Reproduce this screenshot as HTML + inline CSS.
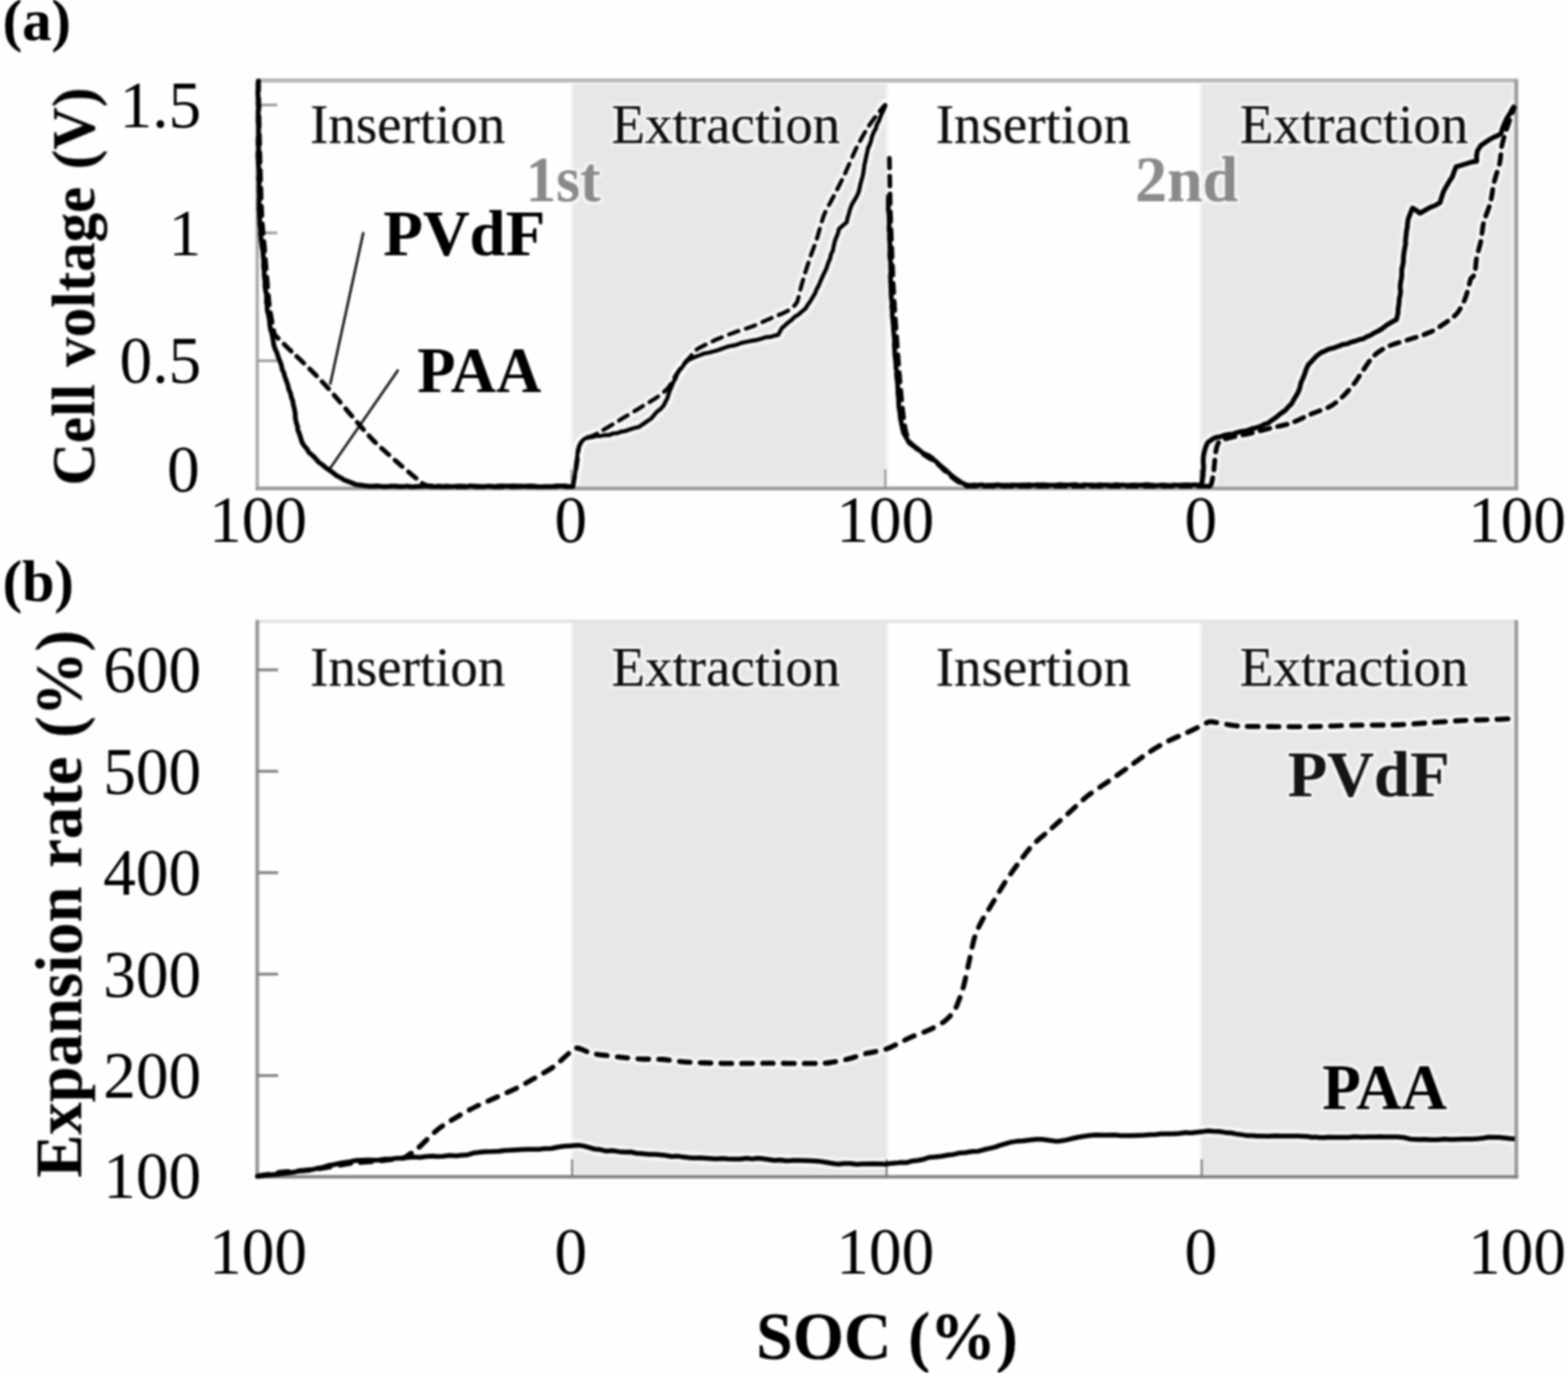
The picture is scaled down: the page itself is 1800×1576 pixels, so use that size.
<!DOCTYPE html>
<html lang="en">
<head>
<meta charset="utf-8">
<title>Cell voltage and expansion rate vs SOC</title>
<style>
html,body{margin:0;padding:0;background:#fefefe;}
body{width:1800px;height:1576px;overflow:hidden;}
svg{display:block;}
text{font-family:"Liberation Serif","DejaVu Serif",serif;fill:#000;}
.crv{fill:none;stroke:#000;stroke-linejoin:round;}
</style>
</head>
<body>
<svg width="1800" height="1576" viewBox="0 0 1800 1576">
<defs>
<filter id="soft" x="-2%" y="-2%" width="104%" height="104%" color-interpolation-filters="sRGB"><feGaussianBlur stdDeviation="1.0"/></filter>
<filter id="soft2" x="-3%" y="-3%" width="106%" height="106%" color-interpolation-filters="sRGB"><feGaussianBlur stdDeviation="1.6"/></filter>
<filter id="halo" x="-2%" y="-2%" width="104%" height="104%" color-interpolation-filters="sRGB"><feMorphology in="SourceAlpha" operator="dilate" radius="2.6" result="d"/><feGaussianBlur in="d" stdDeviation="0.9" result="db"/><feFlood flood-color="#ffffff" flood-opacity="0.6"/><feComposite in2="db" operator="in" result="h"/><feMerge><feMergeNode in="h"/><feMergeNode in="SourceGraphic"/></feMerge></filter>
</defs>
<rect x="0" y="0" width="1800" height="1576" fill="#fefefe"/>
<g filter="url(#soft)">
<g id="panel-a">
<g filter="url(#soft2)">
<rect x="656.8" y="96.2" width="361.4" height="465.3" fill="#e7e7e7"/>
<rect x="1378.2" y="96.2" width="362.4" height="465.3" fill="#e7e7e7"/>
</g>
<path stroke="#fff" stroke-opacity="0.6" fill="none" stroke-linejoin="round" stroke-linecap="round" stroke-width="14" d="M657.8 558.2C658.1 556.3 659.2 549.0 659.8 545.0C660.4 541.0 661.5 534.6 662.2 530.0C662.9 525.4 663.2 515.9 664.4 512.2C665.6 508.5 668.4 505.3 670.6 503.8C672.8 502.3 676.5 502.0 680.0 501.4C683.5 500.8 690.2 500.6 695.6 499.6C701.0 498.6 711.8 496.3 717.8 494.6C723.8 492.9 733.1 490.2 737.8 487.6C742.5 485.0 747.3 480.0 751.1 476.2C754.9 472.4 761.6 465.8 764.4 461.1C767.2 456.4 768.9 448.3 771.1 443.3C773.3 438.3 777.5 429.7 780.0 425.6C782.5 421.5 786.1 416.8 788.9 414.4C791.7 412.0 795.3 410.6 800.0 408.9C805.7 406.9 821.7 402.1 828.9 400.0C836.1 397.9 844.8 395.6 851.1 394.0C857.4 392.4 867.3 390.3 873.3 388.9C879.3 387.5 890.5 385.0 893.3 384.4L897.8 376.7C899.4 375.3 905.1 369.9 908.9 366.7C912.7 363.5 920.6 358.6 924.4 354.4C928.2 350.1 932.4 342.7 935.6 336.7C938.8 330.7 943.9 319.1 946.7 312.2C949.5 305.3 953.7 293.5 955.6 287.8C957.5 282.1 958.9 275.5 960.0 272.0C961.1 268.5 962.8 264.5 963.3 263.3L971.7 255.0C972.6 252.2 976.2 240.4 978.3 235.0C980.4 229.6 984.8 222.6 986.7 216.7C988.6 210.8 990.3 199.9 991.7 193.3C993.1 186.7 994.6 177.1 996.7 170.0C998.8 162.9 1003.9 150.4 1006.7 143.3C1009.5 136.2 1015.3 123.3 1016.7 120.0"/>
<path stroke="#fff" stroke-opacity="0.6" fill="none" stroke-linejoin="round" stroke-linecap="round" stroke-width="14" d="M1380.0 556.8C1380.2 554.6 1380.8 546.5 1381.1 541.1C1381.4 535.7 1381.4 523.6 1382.2 518.9C1383.0 514.2 1385.1 510.1 1386.7 507.8C1388.3 505.5 1390.2 504.0 1393.3 502.9C1397.4 501.5 1409.3 499.3 1415.6 497.8C1421.9 496.3 1432.1 493.9 1437.8 492.2C1443.5 490.5 1450.9 488.1 1455.6 485.6C1460.3 483.1 1467.3 477.6 1471.1 474.4C1474.9 471.2 1479.5 466.8 1482.2 463.3C1484.9 459.8 1488.1 454.1 1490.0 450.0C1491.9 445.9 1493.9 438.8 1495.6 434.4C1497.3 430.0 1500.0 422.5 1502.2 418.9C1504.4 415.3 1508.3 411.3 1511.1 408.9C1513.9 406.5 1517.8 404.1 1522.2 402.2C1526.6 400.3 1536.2 397.5 1542.2 395.6C1548.2 393.7 1558.7 391.1 1564.4 388.9C1570.1 386.7 1578.1 382.4 1582.2 380.0C1586.3 377.6 1590.3 374.1 1593.3 372.2C1596.3 370.3 1601.9 367.5 1603.3 366.7C1603.5 365.6 1604.4 362.0 1604.8 358.9C1605.3 355.4 1606.0 348.8 1606.7 342.0C1607.4 334.4 1608.9 315.0 1610.0 305.0C1611.1 295.0 1613.3 279.3 1614.2 271.7C1615.1 264.1 1615.6 256.3 1616.7 251.7C1617.8 247.1 1621.0 241.0 1621.7 239.2L1630.0 244.2C1631.7 243.4 1638.4 240.0 1641.7 238.3C1645.0 236.6 1651.7 233.3 1653.3 232.5C1653.9 230.7 1655.6 224.1 1657.5 220.0C1659.4 215.9 1664.7 207.3 1666.7 203.3C1668.7 199.3 1671.0 193.3 1671.7 191.7C1673.3 191.1 1680.0 188.4 1683.3 187.5C1686.6 186.6 1693.3 185.4 1695.0 185.0C1695.1 183.3 1695.1 175.9 1695.8 173.3C1696.5 170.7 1698.0 168.6 1700.0 166.7C1702.0 164.8 1706.7 161.9 1710.0 160.0C1713.3 158.1 1721.4 154.2 1723.3 153.3C1723.8 151.7 1725.3 145.0 1726.7 141.7C1728.1 138.4 1731.6 132.9 1733.3 130.0C1735.0 127.1 1738.0 122.3 1738.8 121.0"/>
<path stroke="#fff" stroke-opacity="0.6" fill="none" stroke-linejoin="round" stroke-linecap="round" stroke-width="13.5" stroke-dasharray="11.2 9.3" d="M657.8 558.6C658.2 556.7 659.6 549.1 660.3 545.0C661.0 540.9 662.1 534.6 662.8 530.0C663.5 525.4 663.8 516.0 665.0 512.2C666.2 508.4 669.0 505.0 671.1 503.3C673.2 501.6 677.2 501.8 680.0 500.5C682.8 499.2 686.7 497.0 691.1 494.4C695.8 491.7 707.3 484.7 713.3 481.1C719.3 477.5 727.6 472.4 733.3 468.9C739.0 465.4 748.6 460.0 753.3 456.7C758.0 453.4 763.6 449.1 766.7 445.6C769.8 442.1 772.5 435.8 775.0 432.0C777.5 428.2 781.6 422.1 784.0 419.0C786.4 415.9 789.7 412.5 792.0 410.0C794.3 407.5 796.0 403.7 800.0 401.1C804.6 398.1 818.1 391.7 824.4 388.9C830.7 386.1 838.7 383.2 844.4 381.1C850.1 379.0 858.7 376.6 864.4 374.4C870.1 372.2 878.7 368.1 884.4 365.6C890.1 363.1 900.1 359.2 904.4 356.7C908.6 354.2 912.4 351.0 914.4 347.8C916.4 344.6 917.1 338.8 918.3 334.4C919.5 330.0 921.5 322.4 923.2 316.7C924.9 311.0 928.4 300.4 930.4 294.4C932.4 288.4 935.4 281.2 937.6 274.4C939.8 267.6 943.4 253.5 946.0 246.7C948.6 239.9 952.9 233.3 956.3 226.7C959.7 220.1 965.9 208.0 969.7 200.0C973.5 192.0 979.3 177.6 983.0 170.0C986.7 162.4 992.5 152.4 996.0 146.7C999.5 141.0 1005.2 133.7 1008.0 130.0C1010.8 126.3 1014.9 121.8 1016.0 120.5"/>
<path stroke="#fff" stroke-opacity="0.6" fill="none" stroke-linejoin="round" stroke-linecap="round" stroke-width="13.5" stroke-dasharray="11.2 9.3" d="M1388.0 558.2C1388.4 557.9 1390.1 557.3 1390.5 556.0C1391.3 553.6 1392.6 546.4 1393.3 541.1C1394.0 535.8 1394.7 523.8 1395.6 518.9C1396.5 514.0 1397.5 509.1 1400.0 506.7C1402.5 504.3 1407.9 503.6 1413.3 502.2C1418.7 500.8 1431.2 498.3 1437.8 496.7C1444.4 495.1 1453.7 492.7 1460.0 491.1C1466.3 489.5 1475.9 487.8 1482.2 485.6C1488.5 483.4 1498.1 478.3 1504.4 475.6C1510.7 472.9 1521.3 469.7 1526.7 466.7C1532.1 463.7 1538.1 458.3 1542.2 454.4C1546.3 450.5 1552.5 443.0 1555.6 438.9C1558.7 434.8 1561.3 430.0 1564.4 425.6C1567.5 421.2 1573.4 411.9 1577.8 407.8C1582.2 403.7 1589.6 399.4 1595.6 396.7C1601.6 394.0 1613.4 391.1 1620.0 388.9C1626.6 386.7 1636.5 383.8 1642.2 381.1C1647.9 378.4 1655.6 373.1 1660.0 370.0C1664.4 366.9 1670.2 362.9 1673.3 358.9C1676.4 354.9 1680.1 347.5 1682.2 342.0C1684.3 336.5 1687.4 323.1 1688.3 320.0L1693.3 315.0C1693.5 312.4 1694.1 302.1 1695.0 296.7C1695.9 291.3 1698.8 282.6 1700.0 276.7C1701.2 270.8 1701.8 261.1 1703.3 255.0C1704.8 248.9 1709.1 239.7 1710.8 233.3C1712.5 226.9 1713.5 216.6 1715.0 210.0C1716.5 203.4 1720.4 192.8 1721.7 186.7C1723.0 180.6 1723.0 172.4 1724.2 166.7C1725.4 161.0 1728.0 152.8 1730.0 146.7C1732.0 140.6 1737.1 126.6 1738.3 123.3"/>
<line x1="656.8" y1="557.2" x2="1018.2" y2="557.2" stroke="#fff" stroke-opacity="0.35" stroke-width="3"/>
<line x1="1378.2" y1="557.2" x2="1737.6" y2="557.2" stroke="#fff" stroke-opacity="0.35" stroke-width="3"/>
<line x1="1737.0" y1="96.4" x2="1737.0" y2="558.7" stroke="#fff" stroke-opacity="0.35" stroke-width="3"/>
<line x1="293.5" y1="92.4" x2="1742.8" y2="92.4" stroke="#b9b9b9" stroke-width="4.8"/>
<line x1="295.3" y1="92.4" x2="295.3" y2="562.7" stroke="#a9a9a9" stroke-width="3.8"/>
<line x1="1740.6" y1="91.4" x2="1740.6" y2="562.8000000000001" stroke="#9c9c9c" stroke-width="4.4"/>
<line x1="293.5" y1="560.7" x2="1742.8" y2="560.7" stroke="#9a9a9a" stroke-width="4.2"/>
<line x1="295.3" y1="414.1" x2="318.3" y2="414.1" stroke="#9a9a9a" stroke-width="3"/>
<line x1="295.3" y1="267.3" x2="318.3" y2="267.3" stroke="#9a9a9a" stroke-width="3"/>
<line x1="295.3" y1="120.5" x2="318.3" y2="120.5" stroke="#9a9a9a" stroke-width="3"/>
<line x1="656.3" y1="538.7" x2="656.3" y2="560.7" stroke="#808080" stroke-width="1.8"/>
<line x1="1016.3" y1="538.7" x2="1016.3" y2="560.7" stroke="#808080" stroke-width="1.8"/>
<line x1="1378" y1="538.7" x2="1378" y2="560.7" stroke="#808080" stroke-width="1.8"/>
</g>
<g id="panel-b">
<g filter="url(#soft2)">
<rect x="656.8" y="713.3" width="361.9" height="638.4" fill="#e7e7e7"/>
<rect x="1378.5" y="713.3" width="362.4" height="638.4" fill="#e7e7e7"/>
</g>
<path stroke="#fff" stroke-opacity="0.6" fill="none" stroke-linejoin="round" stroke-linecap="round" stroke-width="14" d="M295.6 1350.0C299.7 1349.5 315.6 1347.8 324.4 1346.7C333.2 1345.6 346.8 1344.1 357.8 1342.2C368.8 1340.3 391.2 1334.9 402.2 1333.3C413.2 1331.7 426.2 1331.7 435.6 1331.1C445.0 1330.5 459.5 1329.5 468.9 1328.9C478.3 1328.3 492.8 1327.6 502.2 1327.1C511.6 1326.6 528.7 1326.3 535.6 1325.6C541.9 1325.0 544.8 1322.9 551.1 1322.2C557.4 1321.5 569.6 1321.2 580.0 1320.7C590.4 1320.2 615.0 1319.6 624.4 1318.9C633.4 1318.3 641.0 1316.6 646.7 1316.0C652.4 1315.4 658.4 1314.0 664.4 1314.6C670.4 1315.2 681.3 1318.9 688.9 1320.0C696.5 1321.1 709.0 1321.4 717.8 1322.2C726.6 1323.0 741.7 1324.8 751.1 1325.6C760.5 1326.4 775.0 1327.2 784.4 1327.8C793.8 1328.4 805.2 1329.7 817.8 1330.0C830.4 1330.3 863.2 1329.8 873.3 1330.0C879.6 1330.1 882.6 1331.3 888.9 1331.6C895.2 1331.9 910.6 1332.0 917.8 1332.2C925.0 1332.4 934.3 1332.8 940.0 1333.3C945.7 1333.8 950.6 1335.3 957.8 1335.6C965.7 1336.0 986.5 1336.0 995.6 1336.0C1004.7 1336.0 1015.0 1336.0 1022.2 1335.6C1029.4 1335.2 1040.4 1334.2 1046.7 1333.3C1053.0 1332.4 1060.7 1330.0 1066.7 1328.9C1072.7 1327.8 1080.1 1326.9 1088.9 1325.6C1097.7 1324.3 1118.8 1322.1 1128.9 1320.0C1139.0 1317.9 1150.6 1312.8 1160.0 1311.1C1169.4 1309.4 1188.4 1308.0 1195.6 1307.8C1201.9 1307.7 1204.9 1310.4 1211.1 1310.0C1218.0 1309.5 1236.5 1305.4 1244.4 1304.4C1252.3 1303.4 1258.8 1302.9 1266.7 1302.7C1274.6 1302.5 1290.6 1303.4 1300.0 1303.3C1309.4 1303.2 1323.9 1302.3 1333.3 1301.8C1342.7 1301.3 1358.4 1300.5 1366.7 1300.0C1375.0 1299.5 1385.1 1298.4 1391.8 1298.5C1398.5 1298.6 1407.2 1299.8 1413.8 1300.5C1420.4 1301.2 1428.4 1303.3 1438.2 1303.7C1449.6 1304.2 1484.8 1303.5 1494.5 1303.7C1499.4 1303.8 1501.8 1305.3 1506.7 1305.4C1522.3 1305.6 1588.6 1304.6 1604.5 1304.9C1610.5 1305.0 1613.2 1307.6 1619.2 1307.8C1631.3 1308.2 1676.6 1308.1 1690.1 1307.8C1699.9 1307.6 1707.6 1305.5 1714.5 1305.4C1721.4 1305.3 1735.5 1307.0 1739.0 1307.3"/>
<path stroke="#fff" stroke-opacity="0.6" fill="none" stroke-linejoin="round" stroke-linecap="round" stroke-width="14" stroke-dasharray="12.2 11.7" d="M295.6 1350.0C299.7 1349.4 315.6 1346.5 324.4 1345.5C333.2 1344.5 346.8 1344.2 357.8 1342.8C368.8 1341.4 391.2 1337.0 402.2 1335.5C413.2 1334.0 426.8 1333.4 435.6 1332.5C444.4 1331.6 460.3 1329.4 464.4 1328.9C466.6 1327.3 474.6 1322.4 480.0 1317.8C485.4 1313.2 495.9 1301.7 502.2 1296.7C508.5 1291.7 518.1 1286.0 524.4 1282.2C530.7 1278.4 540.4 1273.1 546.7 1270.0C553.0 1266.9 562.6 1262.8 568.9 1260.0C575.2 1257.2 584.8 1253.1 591.1 1250.0C597.4 1246.9 607.0 1241.4 613.3 1237.8C619.6 1234.2 629.9 1228.5 635.6 1224.4C641.3 1220.3 649.5 1211.9 653.3 1208.9C656.6 1206.2 659.0 1203.2 662.2 1203.0C665.4 1202.8 672.5 1206.8 675.6 1207.8C678.7 1208.8 680.8 1209.4 684.4 1210.0C689.4 1210.8 703.8 1212.5 711.1 1213.3C718.4 1214.1 728.7 1215.2 735.6 1215.6C742.5 1216.0 753.1 1215.5 760.0 1216.0C766.9 1216.5 777.5 1218.3 784.4 1218.9C791.3 1219.5 801.0 1219.7 808.9 1220.0C816.8 1220.3 829.3 1220.6 840.0 1220.7C850.7 1220.8 871.8 1220.4 884.4 1220.4C897.0 1220.4 919.5 1220.8 928.9 1220.7C937.8 1220.6 944.8 1220.7 951.1 1220.0C957.4 1219.3 967.0 1217.2 973.3 1215.6C979.6 1214.0 989.3 1210.5 995.6 1208.9C1001.9 1207.3 1010.9 1206.5 1017.8 1204.0C1024.7 1201.5 1037.5 1194.2 1044.4 1191.1C1051.3 1188.0 1061.0 1184.9 1066.7 1182.2C1072.4 1179.5 1080.3 1175.3 1084.4 1172.2C1088.5 1169.1 1093.1 1163.9 1095.6 1160.0C1098.1 1156.1 1100.6 1148.7 1102.2 1144.4C1103.8 1140.2 1105.2 1135.9 1106.7 1130.0C1108.3 1123.7 1111.6 1107.7 1113.3 1100.0C1115.0 1092.3 1117.0 1081.6 1118.9 1075.6C1120.8 1069.6 1123.7 1063.5 1126.7 1057.8C1129.7 1052.1 1136.2 1041.9 1140.0 1035.6C1143.8 1029.3 1149.2 1019.6 1153.3 1013.3C1157.4 1007.0 1164.5 997.1 1168.9 991.1C1173.3 985.1 1179.4 976.5 1184.4 971.1C1189.4 965.7 1198.4 958.7 1204.4 953.3C1210.4 947.9 1220.4 939.0 1226.7 933.3C1233.0 927.6 1242.6 918.3 1248.9 913.3C1255.2 908.3 1264.8 902.2 1271.1 897.8C1277.4 893.4 1286.7 886.9 1293.3 882.2C1299.9 877.5 1311.2 868.8 1317.8 864.4C1324.4 860.0 1333.7 854.4 1340.0 851.1C1346.3 847.8 1356.2 843.9 1362.2 841.1C1368.2 838.3 1378.4 833.3 1382.2 831.5C1385.0 830.2 1386.2 828.3 1389.3 828.4C1394.8 828.7 1411.3 832.5 1421.0 833.3C1430.7 834.1 1445.7 833.9 1457.8 834.0C1469.9 834.1 1492.8 834.2 1506.7 834.0C1520.6 833.8 1541.7 832.8 1555.6 832.5C1569.5 832.2 1592.4 832.4 1604.5 832.0C1616.6 831.6 1630.8 830.3 1641.2 829.6C1651.6 828.9 1667.4 827.6 1677.8 827.1C1688.2 826.6 1706.0 826.2 1714.5 825.9C1723.0 825.6 1734.7 824.9 1738.0 824.7"/>
<line x1="656.8" y1="1347.2" x2="1018.2" y2="1347.2" stroke="#fff" stroke-opacity="0.35" stroke-width="3"/>
<line x1="1378.2" y1="1347.2" x2="1737.6" y2="1347.2" stroke="#fff" stroke-opacity="0.35" stroke-width="3"/>
<line x1="1737.0" y1="715.3" x2="1737.0" y2="1348.7" stroke="#fff" stroke-opacity="0.35" stroke-width="3"/>
<line x1="295.3" y1="713.3" x2="1740.6" y2="713.3" stroke="#e0e0e0" stroke-width="3.6"/>
<line x1="295.3" y1="711.8" x2="295.3" y2="1352.7" stroke="#959595" stroke-width="4.2"/>
<line x1="1740.6" y1="711.8" x2="1740.6" y2="1352.8" stroke="#9a9a9a" stroke-width="4.4"/>
<line x1="293.5" y1="1350.7" x2="1742.8" y2="1350.7" stroke="#858585" stroke-width="4"/>
<line x1="295.3" y1="1234.6" x2="319.3" y2="1234.6" stroke="#808080" stroke-width="3.2"/>
<line x1="295.3" y1="1118.2" x2="319.3" y2="1118.2" stroke="#808080" stroke-width="3.2"/>
<line x1="295.3" y1="1001.7" x2="319.3" y2="1001.7" stroke="#808080" stroke-width="3.2"/>
<line x1="295.3" y1="885.3" x2="319.3" y2="885.3" stroke="#808080" stroke-width="3.2"/>
<line x1="295.3" y1="768.9" x2="319.3" y2="768.9" stroke="#808080" stroke-width="3.2"/>
<line x1="656.7" y1="1330.7" x2="656.7" y2="1350.7" stroke="#707070" stroke-width="2"/>
<line x1="1017.8" y1="1330.7" x2="1017.8" y2="1350.7" stroke="#707070" stroke-width="2"/>
<line x1="1379.6" y1="1330.7" x2="1379.6" y2="1350.7" stroke="#707070" stroke-width="2"/>
</g>
<g id="labels" filter="url(#halo)">
<text transform="translate(3.0 45.8) scale(0.99 0.99)" font-size="68" font-weight="bold" style="stroke:#000;stroke-width:0.15px;stroke-linejoin:round">(a)</text>
<text transform="translate(3.0 689.6) scale(0.985 0.99)" font-size="68" font-weight="bold" style="stroke:#000;stroke-width:0.15px;stroke-linejoin:round">(b)</text>
<text transform="translate(108.2 329.0) rotate(-90) scale(0.967 1)" font-size="70" font-weight="bold" text-anchor="middle" style="word-spacing:3.1px;stroke:#000;stroke-width:0.15px;stroke-linejoin:round">Cell voltage (V)</text>
<text transform="translate(93.2 1037.5) rotate(-90) scale(0.9645 1)" font-size="77" font-weight="bold" text-anchor="middle" style="word-spacing:3.1px;stroke:#000;stroke-width:0.15px;stroke-linejoin:round">Expansion rate (%)</text>
<text transform="translate(1018.2 1560.0) scale(0.983 1.02)" font-size="77" font-weight="bold" text-anchor="middle" style="stroke:#000;stroke-width:0.15px;stroke-linejoin:round">SOC (%)</text>
<text transform="translate(229.3 564.2) scale(1 1.025)" font-size="75" text-anchor="end">0</text>
<text transform="translate(231.0 439.3) scale(1 1.025)" font-size="75" text-anchor="end">0.5</text>
<text transform="translate(231.0 292.5) scale(1 1.025)" font-size="75" text-anchor="end">1</text>
<text transform="translate(231.0 145.7) scale(1 1.025)" font-size="75" text-anchor="end">1.5</text>
<text transform="translate(231.0 1375.0) scale(1 1.025)" font-size="75" text-anchor="end">100</text>
<text transform="translate(231.0 1260.0) scale(1 1.025)" font-size="75" text-anchor="end">200</text>
<text transform="translate(231.0 1143.6) scale(1 1.025)" font-size="75" text-anchor="end">300</text>
<text transform="translate(231.0 1027.1) scale(1 1.025)" font-size="75" text-anchor="end">400</text>
<text transform="translate(231.0 910.7) scale(1 1.025)" font-size="75" text-anchor="end">500</text>
<text transform="translate(231.0 794.3) scale(1 1.025)" font-size="75" text-anchor="end">600</text>
<text transform="translate(296.2 621.7) scale(1 1.025)" font-size="75" text-anchor="middle">100</text>
<text transform="translate(296.2 1462.0) scale(1 1.025)" font-size="75" text-anchor="middle">100</text>
<text transform="translate(655.3 621.7) scale(1 1.025)" font-size="75" text-anchor="middle">0</text>
<text transform="translate(655.3 1462.0) scale(1 1.025)" font-size="75" text-anchor="middle">0</text>
<text transform="translate(1016.2 621.7) scale(1 1.025)" font-size="75" text-anchor="middle">100</text>
<text transform="translate(1016.2 1462.0) scale(1 1.025)" font-size="75" text-anchor="middle">100</text>
<text transform="translate(1378.6 621.7) scale(1 1.025)" font-size="75" text-anchor="middle">0</text>
<text transform="translate(1378.6 1462.0) scale(1 1.025)" font-size="75" text-anchor="middle">0</text>
<text transform="translate(1741.5 621.7) scale(1 1.025)" font-size="75" text-anchor="middle">100</text>
<text transform="translate(1741.5 1462.0) scale(1 1.025)" font-size="75" text-anchor="middle">100</text>
<text transform="translate(356.0 164.3)" font-size="63" style="fill:#0d0d0d;stroke:#0d0d0d;stroke-width:0.25px;stroke-linejoin:round">Insertion</text>
<text transform="translate(356.0 786.8)" font-size="63" style="fill:#0d0d0d;stroke:#0d0d0d;stroke-width:0.25px;stroke-linejoin:round">Insertion</text>
<text transform="translate(702.0 164.3)" font-size="63" style="fill:#0d0d0d;stroke:#0d0d0d;stroke-width:0.25px;stroke-linejoin:round">Extraction</text>
<text transform="translate(702.0 786.8)" font-size="63" style="fill:#0d0d0d;stroke:#0d0d0d;stroke-width:0.25px;stroke-linejoin:round">Extraction</text>
<text transform="translate(1074.3 164.3)" font-size="63" style="fill:#0d0d0d;stroke:#0d0d0d;stroke-width:0.25px;stroke-linejoin:round">Insertion</text>
<text transform="translate(1074.3 786.8)" font-size="63" style="fill:#0d0d0d;stroke:#0d0d0d;stroke-width:0.25px;stroke-linejoin:round">Insertion</text>
<text transform="translate(1423.2 164.3)" font-size="63" style="fill:#0d0d0d;stroke:#0d0d0d;stroke-width:0.25px;stroke-linejoin:round">Extraction</text>
<text transform="translate(1423.2 786.8)" font-size="63" style="fill:#0d0d0d;stroke:#0d0d0d;stroke-width:0.25px;stroke-linejoin:round">Extraction</text>
<text transform="translate(603.5 231.3) scale(0.975 1.02)" font-size="72" font-weight="bold" style="fill:#8a8a8a;stroke:#8a8a8a;stroke-width:0.15px;stroke-linejoin:round">1st</text>
<text transform="translate(1303.0 231.3) scale(1.02 1.02)" font-size="72" font-weight="bold" style="fill:#8a8a8a;stroke:#8a8a8a;stroke-width:0.15px;stroke-linejoin:round">2nd</text>
<text transform="translate(440.0 293.3) scale(1.005 1)" font-size="74" font-weight="bold" style="stroke:#000;stroke-width:0.15px;stroke-linejoin:round">PVdF</text>
<text transform="translate(479.0 450.0) scale(0.985 1)" font-size="73" font-weight="bold" style="stroke:#000;stroke-width:0.15px;stroke-linejoin:round">PAA</text>
<text transform="translate(1478.2 913.9) scale(1.005 1)" font-size="74" font-weight="bold" style="fill:#141414;stroke:#141414;stroke-width:0.15px;stroke-linejoin:round">PVdF</text>
<text transform="translate(1517.9 1273.1) scale(0.99 1)" font-size="73" font-weight="bold" style="stroke:#000;stroke-width:0.15px;stroke-linejoin:round">PAA</text>
</g>
<g id="pointers" stroke="#1a1a1a" stroke-width="3" fill="none">
<line x1="417.2" y1="266.5" x2="379" y2="441.5"/>
<line x1="457.3" y1="424.3" x2="378" y2="539"/>
</g>
<g id="curves-a">
<path class="crv" stroke-width="5.5" d="M296.3 94.0L296.4 97.0L296.3 101.7L296.0 107.2L296.5 113.0L296.5 116.0L296.4 119.6L296.9 123.7L296.5 128.3L296.4 133.3L296.3 138.5L297.0 144.0L296.8 149.5L297.0 155.1L296.3 160.6L296.4 165.9L297.1 171.0L296.2 175.7L296.2 180.0L296.6 184.3L296.7 188.9L297.2 193.8L297.4 198.9L296.9 204.2L297.5 209.6L297.4 215.0L297.4 220.3L297.7 225.4L297.4 230.4L297.5 235.1L297.2 239.4L297.7 243.3L297.7 246.7L298.1 251.9L298.2 256.5L298.8 260.8L299.4 264.9L299.1 269.0L299.6 273.3L300.2 277.9L300.8 283.0L301.5 286.5L301.9 290.5L302.2 295.1L302.8 300.1L302.5 305.5L303.3 311.0L303.3 316.6L304.2 322.2L304.1 327.7L304.7 333.0L305.9 337.9L306.1 342.5L305.8 346.6L306.6 350.0L306.8 356.0L308.2 361.7L309.3 367.2L309.7 372.4L310.3 377.2L311.6 381.3L312.5 384.9L313.5 390.6L314.3 396.0L315.9 400.7L317.9 404.9L319.2 409.2L321.0 413.7L322.9 418.7L324.1 424.5L325.8 427.7L326.8 431.9L328.5 436.5L330.3 441.4L331.4 446.6L333.5 451.3L334.4 456.0L336.0 459.9L336.7 464.5L338.0 469.6L338.9 474.9L339.1 480.3L340.2 485.3L341.6 489.7L341.8 493.4L343.9 498.4L345.3 503.1L346.6 507.5L348.8 511.2L351.9 514.7L354.7 519.4L359.0 523.0L362.4 526.5L365.5 530.2L369.9 533.4L374.1 536.9L378.1 539.7L382.1 542.5L386.5 546.0L391.5 548.6L395.6 551.2L399.7 552.7L404.2 554.4L408.7 556.3L413.3 556.8L418.7 557.5L425.4 558.2L431.6 557.7L435.6 557.9L440.1 558.6L444.7 558.5L449.2 557.9L453.7 557.9L458.3 558.4L462.8 558.6L467.3 557.9L471.9 558.7L476.4 558.6L480.9 558.3L485.5 558.1L490.0 557.8L494.6 557.7L499.1 558.7L503.6 557.9L508.2 558.4L512.7 558.0L517.2 558.5L521.8 558.3L526.3 558.0L530.8 557.9L535.4 558.4L539.9 557.8L544.4 557.9L549.0 558.3L553.5 558.6L558.0 558.3L562.6 558.0L567.1 558.6L571.6 557.9L576.2 557.7L580.7 558.0L585.2 558.1L589.8 557.8L594.3 557.9L598.8 558.1L603.4 558.3L607.9 557.8L612.5 558.1L617.0 558.6L621.5 558.7L626.1 558.4L630.6 558.4L635.1 558.3L639.7 557.8L644.2 557.7L648.7 557.7L653.3 558.6L657.8 558.2"/>
<path class="crv" stroke-width="4.7" d="M657.8 558.2L658.7 552.4L660.0 545.0L660.7 540.4L661.0 535.0L661.7 529.9L662.7 524.2L663.2 517.4L664.7 512.3L667.3 507.3L670.7 503.9L674.8 502.3L680.0 501.6L684.4 500.5L689.9 500.3L695.5 499.3L699.5 499.3L703.9 497.5L709.0 497.1L713.6 495.3L717.8 494.8L722.7 493.0L728.3 491.3L733.7 489.9L737.6 487.2L742.2 484.0L747.3 480.6L751.1 476.2L754.1 472.6L758.5 469.3L762.0 465.2L764.1 460.9L766.2 457.0L767.6 452.2L769.3 447.5L771.2 443.3L772.8 438.9L775.6 434.2L777.5 429.2L779.7 425.4L783.1 421.6L785.8 417.4L788.9 414.3L793.8 411.5L800.0 408.9L803.6 407.6L808.3 405.7L814.0 404.7L819.6 403.2L824.8 401.7L828.9 400.2L833.3 398.6L838.0 397.3L842.7 396.4L847.1 395.2L851.0 393.6L855.2 392.7L859.9 391.8L864.7 390.9L869.4 390.1L873.3 388.9L878.5 387.2L884.6 386.7L889.8 385.1L893.3 384.4L897.6 376.5L900.5 374.1L904.6 370.3L909.1 366.9L912.2 363.7L916.7 361.0L920.7 357.4L924.5 354.5L926.9 350.4L930.0 346.1L932.9 341.3L935.7 336.8L937.3 332.3L940.0 327.5L942.2 322.0L944.6 316.7L946.7 312.2L948.9 307.7L950.5 302.3L952.9 297.0L953.9 291.8L956.0 287.9L957.2 281.9L958.5 276.3L960.2 272.1L962.3 266.9L962.9 263.0L967.3 259.0L971.9 255.2L972.7 251.4L974.3 245.9L976.0 239.9L977.9 234.8L980.3 230.7L983.0 226.3L985.3 221.5L986.7 216.7L987.4 212.5L988.7 207.8L990.2 202.7L991.2 197.8L991.8 193.3L992.3 189.0L993.5 184.3L994.4 179.4L995.6 174.5L996.5 169.9L998.4 166.2L1000.0 161.6L1001.1 156.5L1003.1 151.7L1005.5 147.4L1006.5 143.2L1009.1 138.6L1011.0 133.0L1013.6 127.7L1015.6 123.1L1016.7 120.0"/>
<path class="crv" stroke-width="5.4" d="M1019.8 223.3L1020.1 226.0L1019.7 230.1L1019.8 235.0L1019.7 240.5L1020.5 246.0L1020.6 249.2L1020.8 253.2L1020.8 257.8L1020.5 262.8L1021.2 268.1L1021.0 273.5L1021.5 278.8L1021.6 284.0L1021.6 288.8L1021.3 293.1L1021.7 296.7L1022.5 301.8L1022.4 306.9L1022.7 311.8L1022.1 316.7L1022.3 321.4L1022.5 325.8L1022.7 330.0L1022.9 334.1L1022.9 338.4L1023.3 342.8L1024.0 347.4L1023.7 352.3L1024.3 357.5L1024.3 363.0L1024.8 366.4L1025.2 370.4L1025.5 374.8L1025.8 379.7L1026.3 384.9L1026.9 390.4L1026.6 396.0L1027.0 401.5L1027.2 407.0L1027.9 412.3L1028.4 417.4L1028.5 422.1L1029.4 426.3L1029.1 430.0L1029.7 435.3L1030.4 440.8L1030.7 446.3L1030.8 451.7L1031.4 456.9L1031.6 461.9L1031.8 466.5L1032.4 470.5L1033.1 474.0L1033.4 479.4L1034.5 484.5L1035.4 489.2L1036.4 493.3L1037.1 496.6L1040.8 503.2L1043.4 507.9L1046.9 510.9L1052.7 514.6L1057.7 518.6L1061.1 521.1L1065.7 522.8L1069.8 525.5L1073.1 528.6L1076.9 532.0L1081.3 535.9L1085.8 539.5L1089.0 542.7L1093.4 546.8L1097.6 549.8L1103.6 553.8L1109.0 556.5L1113.4 557.2L1117.9 556.7L1122.5 557.0L1127.0 556.4L1131.5 557.3L1136.0 556.9L1140.5 557.0L1145.0 556.5L1149.6 556.9L1154.1 556.9L1158.6 556.9L1163.1 556.7L1167.6 557.0L1172.2 556.6L1176.7 556.6L1181.2 556.5L1185.7 557.0L1190.2 556.4L1194.7 556.5L1199.3 556.4L1203.8 556.9L1208.3 556.9L1212.8 556.8L1217.3 556.3L1221.9 556.7L1226.4 556.6L1230.9 556.4L1235.4 556.3L1239.9 557.3L1244.5 556.4L1249.0 556.6L1253.5 556.6L1258.0 556.9L1262.5 556.4L1267.0 556.8L1271.6 556.7L1276.1 557.1L1280.6 556.3L1285.1 556.6L1289.6 556.8L1294.2 557.3L1298.7 556.8L1303.2 556.8L1307.7 557.0L1312.2 556.6L1316.7 556.3L1321.3 556.8L1325.8 557.2L1330.3 557.0L1334.8 556.6L1339.3 557.0L1343.9 557.1L1348.4 556.6L1352.9 556.9L1357.4 556.7L1361.9 556.5L1366.4 556.6L1371.0 556.5L1375.5 556.7L1380.0 556.8"/>
<path class="crv" stroke-width="5.6" d="M1380.0 556.8L1379.9 552.9L1380.9 547.1L1381.3 541.1L1381.7 536.0L1381.2 529.7L1381.5 523.6L1382.4 518.9L1384.3 512.5L1386.6 507.7L1393.4 503.1L1396.6 501.9L1401.2 501.2L1406.1 499.5L1411.2 498.5L1415.7 498.2L1419.7 496.7L1424.4 495.4L1429.4 494.8L1433.9 493.4L1437.7 491.9L1442.3 490.9L1447.1 489.4L1451.5 487.1L1455.7 485.7L1459.3 482.9L1463.6 480.1L1467.5 476.8L1470.9 474.2L1475.4 471.2L1478.9 467.0L1482.6 463.6L1484.9 459.2L1487.8 454.5L1490.3 450.2L1492.1 445.2L1493.4 439.4L1495.7 434.4L1497.7 429.3L1499.6 423.4L1501.9 418.7L1506.7 413.7L1511.1 408.9L1515.9 405.1L1522.2 402.2L1526.2 400.4L1531.7 399.2L1537.2 397.2L1542.1 395.2L1546.4 394.7L1550.9 392.7L1555.8 391.5L1560.3 389.8L1564.5 389.1L1568.8 386.6L1573.9 384.5L1578.3 381.7L1582.2 380.0L1586.3 377.5L1590.0 374.6L1593.3 372.2L1598.9 369.0L1603.2 366.7L1604.9 358.9L1605.0 354.4L1606.0 348.6L1606.4 342.0L1607.4 338.7L1607.8 334.5L1607.3 329.6L1607.8 324.4L1608.9 319.1L1609.2 313.9L1609.1 309.1L1610.2 305.0L1611.0 300.5L1611.1 295.3L1611.7 290.1L1612.6 284.9L1613.6 279.9L1613.5 275.4L1614.0 271.7L1614.5 266.0L1615.5 260.6L1615.9 255.7L1616.5 251.6L1619.2 244.4L1621.5 238.8L1625.9 241.5L1630.0 244.7L1635.3 241.7L1641.6 238.1L1648.3 235.5L1653.2 232.4L1654.7 227.0L1657.1 219.8L1659.1 216.1L1661.8 211.5L1664.5 206.9L1667.0 203.5L1669.5 196.5L1671.5 191.5L1676.9 189.8L1683.4 187.9L1689.7 185.9L1695.2 185.2L1695.0 179.5L1695.9 173.3L1700.1 166.8L1704.8 163.7L1710.1 160.2L1714.5 157.6L1719.9 155.3L1723.2 153.2L1724.6 148.1L1727.1 141.9L1729.9 135.7L1733.5 130.1L1736.2 124.8L1738.8 121.0"/>
<path class="crv" stroke-linecap="round" stroke-width="5.3" stroke-dasharray="11.2 9.3" d="M296.8 93.0C296.8 95.8 296.9 105.0 297.0 113.0C297.2 125.3 297.9 161.1 298.4 180.0C298.9 198.9 299.9 232.1 300.6 246.7C301.3 261.2 302.3 268.5 303.5 283.0C304.7 297.6 307.6 335.7 309.2 350.0C310.8 363.7 314.2 379.2 315.0 384.0C317.9 386.9 330.4 399.3 335.6 404.4C340.8 409.5 346.3 414.3 352.0 420.0C357.7 425.7 366.9 434.7 375.6 444.4C384.3 454.1 405.5 479.5 413.3 488.5C420.2 496.4 424.4 501.6 431.0 508.0C437.6 514.4 452.3 527.3 460.0 534.0C467.7 540.7 481.9 552.5 485.5 555.5C486.8 555.9 491.0 558.5 495.0 558.6C519.4 559.0 634.7 558.6 657.8 558.6"/>
<path class="crv" stroke-linecap="round" stroke-width="4.7" stroke-dasharray="11.8 8.7" d="M657.8 558.6C658.2 556.7 659.6 549.1 660.3 545.0C661.0 540.9 662.1 534.6 662.8 530.0C663.5 525.4 663.8 516.0 665.0 512.2C666.2 508.4 669.0 505.0 671.1 503.3C673.2 501.6 677.2 501.8 680.0 500.5C682.8 499.2 686.7 497.0 691.1 494.4C695.8 491.7 707.3 484.7 713.3 481.1C719.3 477.5 727.6 472.4 733.3 468.9C739.0 465.4 748.6 460.0 753.3 456.7C758.0 453.4 763.6 449.1 766.7 445.6C769.8 442.1 772.5 435.8 775.0 432.0C777.5 428.2 781.6 422.1 784.0 419.0C786.4 415.9 789.7 412.5 792.0 410.0C794.3 407.5 796.0 403.7 800.0 401.1C804.6 398.1 818.1 391.7 824.4 388.9C830.7 386.1 838.7 383.2 844.4 381.1C850.1 379.0 858.7 376.6 864.4 374.4C870.1 372.2 878.7 368.1 884.4 365.6C890.1 363.1 900.1 359.2 904.4 356.7C908.6 354.2 912.4 351.0 914.4 347.8C916.4 344.6 917.1 338.8 918.3 334.4C919.5 330.0 921.5 322.4 923.2 316.7C924.9 311.0 928.4 300.4 930.4 294.4C932.4 288.4 935.4 281.2 937.6 274.4C939.8 267.6 943.4 253.5 946.0 246.7C948.6 239.9 952.9 233.3 956.3 226.7C959.7 220.1 965.9 208.0 969.7 200.0C973.5 192.0 979.3 177.6 983.0 170.0C986.7 162.4 992.5 152.4 996.0 146.7C999.5 141.0 1005.2 133.7 1008.0 130.0C1010.8 126.3 1014.9 121.8 1016.0 120.5"/>
<path class="crv" stroke-linecap="round" stroke-width="5.3" stroke-dasharray="11.2 9.3" d="M1021.0 181.7C1021.1 186.4 1021.4 205.9 1021.6 215.0C1021.8 224.1 1021.8 234.4 1022.2 246.0C1022.6 257.6 1023.7 284.8 1024.2 296.7C1024.7 308.6 1025.1 320.6 1025.6 330.0C1026.1 339.4 1026.7 349.8 1027.6 363.0C1028.6 377.2 1031.2 414.3 1032.5 430.0C1033.8 445.7 1035.5 464.6 1036.6 474.0C1037.7 483.1 1038.9 491.8 1040.2 496.7C1041.5 501.6 1044.7 506.9 1045.5 508.6C1047.3 510.3 1054.5 517.4 1058.5 520.5C1062.5 523.6 1069.6 527.0 1074.0 530.5C1078.4 534.0 1086.0 542.0 1089.5 545.0C1092.9 548.0 1095.7 550.1 1098.5 552.0C1101.3 553.9 1107.9 557.3 1109.5 558.2L1388.0 558.2"/>
<path class="crv" stroke-linecap="round" stroke-width="5.5" stroke-dasharray="11.2 9.3" d="M1388.0 558.2C1388.4 557.9 1390.1 557.3 1390.5 556.0C1391.3 553.6 1392.6 546.4 1393.3 541.1C1394.0 535.8 1394.7 523.8 1395.6 518.9C1396.5 514.0 1397.5 509.1 1400.0 506.7C1402.5 504.3 1407.9 503.6 1413.3 502.2C1418.7 500.8 1431.2 498.3 1437.8 496.7C1444.4 495.1 1453.7 492.7 1460.0 491.1C1466.3 489.5 1475.9 487.8 1482.2 485.6C1488.5 483.4 1498.1 478.3 1504.4 475.6C1510.7 472.9 1521.3 469.7 1526.7 466.7C1532.1 463.7 1538.1 458.3 1542.2 454.4C1546.3 450.5 1552.5 443.0 1555.6 438.9C1558.7 434.8 1561.3 430.0 1564.4 425.6C1567.5 421.2 1573.4 411.9 1577.8 407.8C1582.2 403.7 1589.6 399.4 1595.6 396.7C1601.6 394.0 1613.4 391.1 1620.0 388.9C1626.6 386.7 1636.5 383.8 1642.2 381.1C1647.9 378.4 1655.6 373.1 1660.0 370.0C1664.4 366.9 1670.2 362.9 1673.3 358.9C1676.4 354.9 1680.1 347.5 1682.2 342.0C1684.3 336.5 1687.4 323.1 1688.3 320.0L1693.3 315.0C1693.5 312.4 1694.1 302.1 1695.0 296.7C1695.9 291.3 1698.8 282.6 1700.0 276.7C1701.2 270.8 1701.8 261.1 1703.3 255.0C1704.8 248.9 1709.1 239.7 1710.8 233.3C1712.5 226.9 1713.5 216.6 1715.0 210.0C1716.5 203.4 1720.4 192.8 1721.7 186.7C1723.0 180.6 1723.0 172.4 1724.2 166.7C1725.4 161.0 1728.0 152.8 1730.0 146.7C1732.0 140.6 1737.1 126.6 1738.3 123.3"/>
</g>
<g id="curves-b">
<path class="crv" stroke-width="5.5" d="M295.6 1350.0L300.6 1349.6L308.3 1348.8L316.8 1347.9L324.5 1347.1L330.2 1346.2L336.8 1345.6L343.8 1343.8L350.9 1343.3L357.9 1342.6L363.2 1341.3L369.6 1340.3L376.3 1338.0L383.6 1336.8L390.5 1335.2L396.9 1334.2L402.2 1333.4L408.9 1332.0L416.0 1331.7L422.9 1331.5L429.6 1331.8L435.6 1331.4L441.7 1330.4L448.7 1330.5L455.8 1329.4L462.7 1329.4L468.9 1328.5L475.0 1328.0L482.0 1328.5L489.1 1327.5L496.0 1327.1L502.2 1327.6L508.6 1327.2L516.0 1326.3L523.6 1326.7L530.4 1326.0L535.6 1325.8L543.3 1323.6L551.2 1322.6L556.8 1321.9L564.0 1321.8L572.0 1321.4L580.0 1320.5L585.2 1320.3L591.7 1319.9L598.9 1319.6L606.2 1319.3L613.3 1319.3L619.5 1319.3L624.4 1318.4L632.9 1318.2L640.4 1316.7L646.7 1315.8L655.5 1315.2L664.4 1314.6L669.7 1315.4L676.1 1317.1L682.7 1319.0L689.0 1319.6L695.3 1321.2L702.9 1320.7L710.6 1321.9L717.8 1322.5L723.8 1322.3L730.6 1323.8L737.9 1324.2L744.9 1325.1L751.1 1325.1L757.3 1325.6L764.2 1326.2L771.3 1327.5L778.2 1327.1L784.4 1328.1L790.2 1328.7L796.6 1329.2L803.3 1329.1L810.4 1329.6L817.8 1330.0L822.7 1330.3L828.7 1329.7L835.5 1330.3L842.8 1330.4L850.1 1330.4L857.2 1329.5L863.7 1330.4L869.2 1329.5L873.3 1329.8L881.1 1330.8L888.9 1332.0L895.1 1331.6L903.0 1332.4L911.1 1332.1L917.8 1332.0L925.5 1332.3L933.3 1332.5L940.0 1332.9L948.4 1334.2L957.8 1335.8L962.7 1336.3L969.1 1335.5L976.3 1335.5L983.5 1336.5L990.2 1336.0L995.6 1335.9L1002.6 1335.7L1009.6 1336.0L1016.3 1336.2L1022.2 1335.6L1028.2 1335.1L1034.7 1334.2L1041.3 1334.4L1046.6 1332.8L1053.4 1332.0L1060.3 1330.7L1066.6 1328.5L1073.2 1328.1L1080.6 1327.2L1088.9 1325.7L1094.3 1325.2L1100.9 1323.6L1108.4 1323.0L1115.9 1321.7L1123.1 1321.4L1128.9 1319.8L1135.1 1318.4L1141.7 1316.9L1148.0 1314.7L1154.2 1312.9L1160.0 1311.1L1166.6 1310.1L1174.5 1309.5L1182.7 1308.5L1190.0 1307.8L1195.6 1307.7L1203.4 1308.7L1211.1 1309.9L1216.5 1309.8L1223.6 1308.6L1231.3 1306.8L1238.6 1305.3L1244.4 1304.2L1251.9 1303.2L1259.1 1302.8L1266.7 1303.0L1272.3 1303.1L1279.1 1302.7L1286.5 1303.4L1293.7 1303.5L1300.0 1303.5L1306.2 1303.3L1313.1 1303.1L1320.2 1302.4L1327.1 1302.3L1333.3 1301.6L1339.6 1301.5L1346.7 1301.4L1354.1 1300.9L1360.9 1300.1L1366.7 1300.4L1373.2 1299.7L1379.9 1299.1L1386.2 1298.1L1391.8 1298.5L1399.0 1298.7L1406.6 1299.9L1413.8 1300.5L1419.0 1301.6L1424.8 1302.4L1431.1 1303.4L1438.2 1303.5L1442.8 1304.0L1448.8 1304.1L1455.7 1304.2L1463.2 1303.7L1470.8 1304.1L1478.1 1304.1L1484.8 1303.9L1490.4 1304.1L1494.5 1304.2L1500.6 1304.6L1506.7 1305.4L1510.2 1305.1L1514.7 1305.8L1520.2 1305.8L1526.3 1305.3L1533.1 1305.5L1540.3 1305.5L1547.8 1305.4L1555.5 1304.8L1563.2 1305.3L1570.7 1305.1L1577.9 1305.1L1584.7 1304.8L1590.9 1305.0L1596.4 1305.1L1601.0 1305.0L1604.5 1305.1L1611.9 1305.8L1619.2 1307.5L1623.3 1307.8L1628.7 1308.1L1635.2 1307.7L1642.4 1308.2L1650.2 1308.2L1658.1 1307.6L1665.9 1308.0L1673.3 1307.7L1680.0 1307.5L1685.7 1307.5L1690.1 1307.6L1697.0 1307.0L1703.3 1306.3L1709.1 1305.3L1714.5 1305.4L1720.8 1305.5L1728.0 1306.3L1734.7 1307.0L1739.0 1307.3"/>
<path class="crv" stroke-linecap="round" stroke-width="5.8" stroke-dasharray="12.2 11.7" d="M295.6 1350.0C299.7 1349.4 315.6 1346.5 324.4 1345.5C333.2 1344.5 346.8 1344.2 357.8 1342.8C368.8 1341.4 391.2 1337.0 402.2 1335.5C413.2 1334.0 426.8 1333.4 435.6 1332.5C444.4 1331.6 460.3 1329.4 464.4 1328.9C466.6 1327.3 474.6 1322.4 480.0 1317.8C485.4 1313.2 495.9 1301.7 502.2 1296.7C508.5 1291.7 518.1 1286.0 524.4 1282.2C530.7 1278.4 540.4 1273.1 546.7 1270.0C553.0 1266.9 562.6 1262.8 568.9 1260.0C575.2 1257.2 584.8 1253.1 591.1 1250.0C597.4 1246.9 607.0 1241.4 613.3 1237.8C619.6 1234.2 629.9 1228.5 635.6 1224.4C641.3 1220.3 649.5 1211.9 653.3 1208.9C656.6 1206.2 659.0 1203.2 662.2 1203.0C665.4 1202.8 672.5 1206.8 675.6 1207.8C678.7 1208.8 680.8 1209.4 684.4 1210.0C689.4 1210.8 703.8 1212.5 711.1 1213.3C718.4 1214.1 728.7 1215.2 735.6 1215.6C742.5 1216.0 753.1 1215.5 760.0 1216.0C766.9 1216.5 777.5 1218.3 784.4 1218.9C791.3 1219.5 801.0 1219.7 808.9 1220.0C816.8 1220.3 829.3 1220.6 840.0 1220.7C850.7 1220.8 871.8 1220.4 884.4 1220.4C897.0 1220.4 919.5 1220.8 928.9 1220.7C937.8 1220.6 944.8 1220.7 951.1 1220.0C957.4 1219.3 967.0 1217.2 973.3 1215.6C979.6 1214.0 989.3 1210.5 995.6 1208.9C1001.9 1207.3 1010.9 1206.5 1017.8 1204.0C1024.7 1201.5 1037.5 1194.2 1044.4 1191.1C1051.3 1188.0 1061.0 1184.9 1066.7 1182.2C1072.4 1179.5 1080.3 1175.3 1084.4 1172.2C1088.5 1169.1 1093.1 1163.9 1095.6 1160.0C1098.1 1156.1 1100.6 1148.7 1102.2 1144.4C1103.8 1140.2 1105.2 1135.9 1106.7 1130.0C1108.3 1123.7 1111.6 1107.7 1113.3 1100.0C1115.0 1092.3 1117.0 1081.6 1118.9 1075.6C1120.8 1069.6 1123.7 1063.5 1126.7 1057.8C1129.7 1052.1 1136.2 1041.9 1140.0 1035.6C1143.8 1029.3 1149.2 1019.6 1153.3 1013.3C1157.4 1007.0 1164.5 997.1 1168.9 991.1C1173.3 985.1 1179.4 976.5 1184.4 971.1C1189.4 965.7 1198.4 958.7 1204.4 953.3C1210.4 947.9 1220.4 939.0 1226.7 933.3C1233.0 927.6 1242.6 918.3 1248.9 913.3C1255.2 908.3 1264.8 902.2 1271.1 897.8C1277.4 893.4 1286.7 886.9 1293.3 882.2C1299.9 877.5 1311.2 868.8 1317.8 864.4C1324.4 860.0 1333.7 854.4 1340.0 851.1C1346.3 847.8 1356.2 843.9 1362.2 841.1C1368.2 838.3 1378.4 833.3 1382.2 831.5C1385.0 830.2 1386.2 828.3 1389.3 828.4C1394.8 828.7 1411.3 832.5 1421.0 833.3C1430.7 834.1 1445.7 833.9 1457.8 834.0C1469.9 834.1 1492.8 834.2 1506.7 834.0C1520.6 833.8 1541.7 832.8 1555.6 832.5C1569.5 832.2 1592.4 832.4 1604.5 832.0C1616.6 831.6 1630.8 830.3 1641.2 829.6C1651.6 828.9 1667.4 827.6 1677.8 827.1C1688.2 826.6 1706.0 826.2 1714.5 825.9C1723.0 825.6 1734.7 824.9 1738.0 824.7"/>
</g>
</g>
</svg>
</body>
</html>
